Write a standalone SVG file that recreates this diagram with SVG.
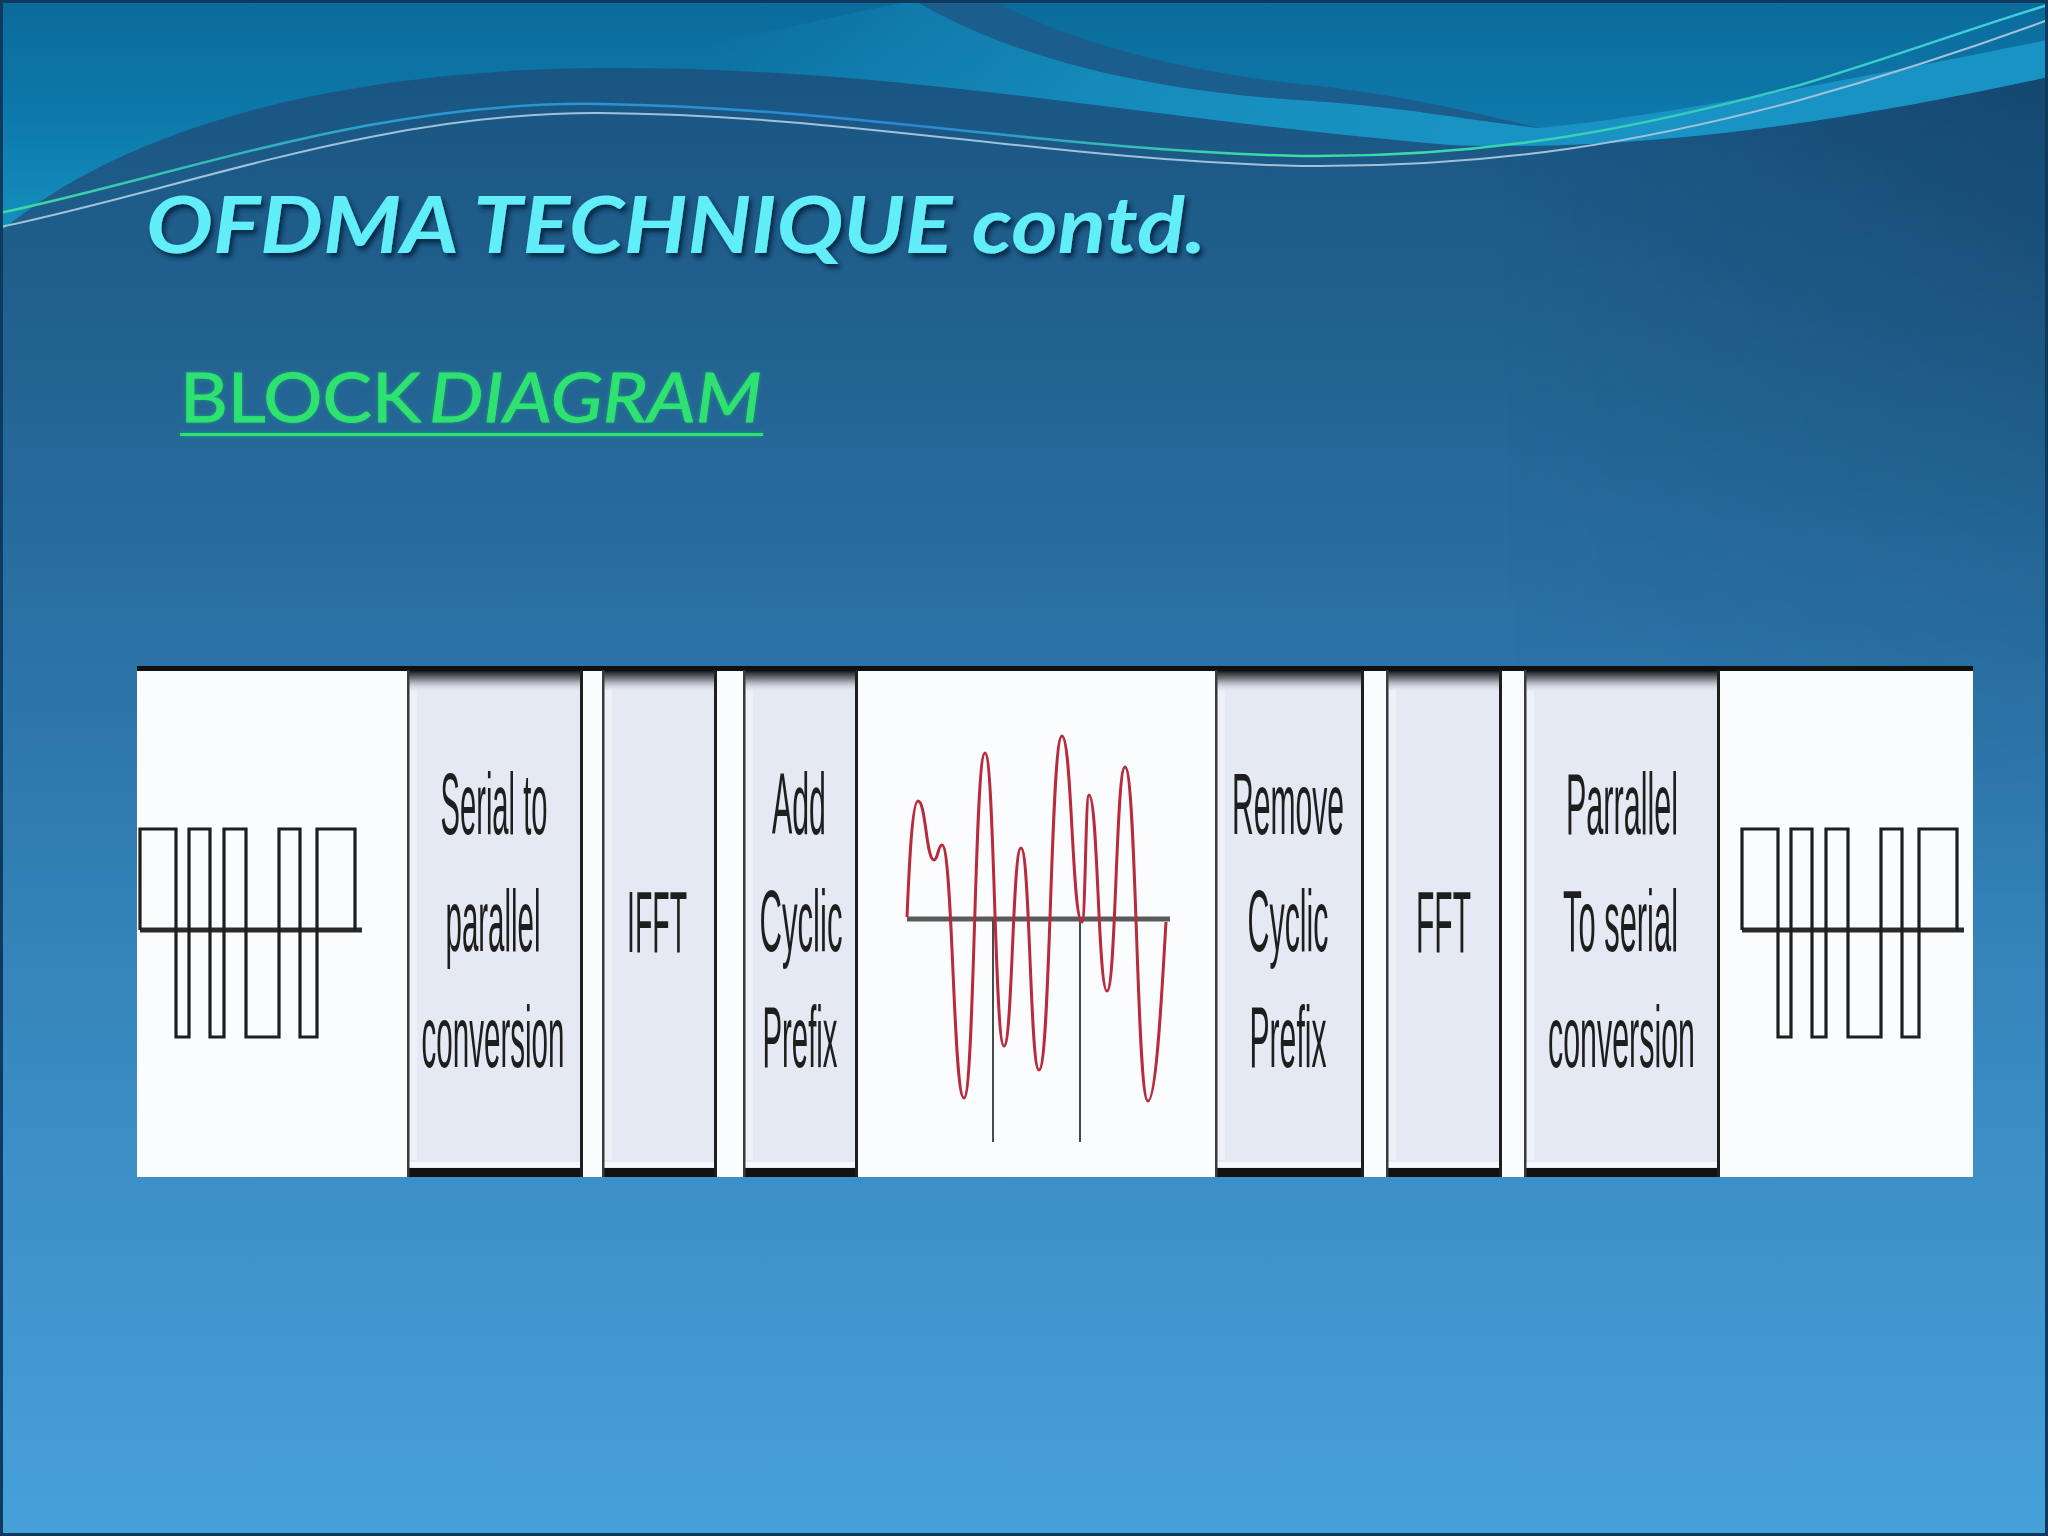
<svg xmlns="http://www.w3.org/2000/svg" width="2048" height="1536" viewBox="0 0 2048 1536">
<defs>
<style>
.lbl{font-family:"Liberation Sans",Arial,sans-serif;font-size:88px;fill:#1e1e1e;text-anchor:middle}
.bfill{fill:#e5e9f3}
.btop{fill:url(#topShade)}
.bbot{fill:#121212}
.bhl{fill:#f7f8fb}
.bedgeL{fill:#3a3a3a}
.bedgeR{fill:#1e1e1e}
.bin{fill:#eef1f8}
.sq{fill:none;stroke:#1e1e1e;stroke-width:3.2;stroke-linejoin:miter}
.base{fill:none;stroke:#2a2a2a;stroke-width:5}
</style>
<linearGradient id="bg" x1="0" y1="0" x2="0" y2="1">
<stop offset="0" stop-color="#17527f"/>
<stop offset="0.2" stop-color="#21608e"/>
<stop offset="0.42" stop-color="#2a72a6"/>
<stop offset="0.72" stop-color="#3a8cc4"/>
<stop offset="1" stop-color="#47a1d8"/>
</linearGradient>
<linearGradient id="rightDark" x1="0" y1="0" x2="1" y2="0">
<stop offset="0" stop-color="#0a2a48" stop-opacity="0"/>
<stop offset="1" stop-color="#0a2a48" stop-opacity="0.35"/>
</linearGradient>
<linearGradient id="fadeV" x1="0" y1="0" x2="0" y2="1">
<stop offset="0" stop-color="#fff"/>
<stop offset="0.6" stop-color="#fff" stop-opacity="0.3"/>
<stop offset="1" stop-color="#fff" stop-opacity="0"/>
</linearGradient>
<mask id="rightMask"><rect x="1500" y="0" width="548" height="900" fill="url(#fadeV)"/></mask>
<linearGradient id="teal" x1="0" y1="0" x2="0" y2="1">
<stop offset="0" stop-color="#0b6b9b"/>
<stop offset="0.5" stop-color="#0d79aa"/>
<stop offset="1" stop-color="#1590be"/>
</linearGradient>
<linearGradient id="band" x1="700" y1="0" x2="1500" y2="0" gradientUnits="userSpaceOnUse">
<stop offset="0" stop-color="#1993c3" stop-opacity="0"/>
<stop offset="0.6" stop-color="#1993c3" stop-opacity="0.8"/>
<stop offset="1" stop-color="#1993c3"/>
</linearGradient>
<linearGradient id="lineG" x1="0" y1="0" x2="2048" y2="0" gradientUnits="userSpaceOnUse">
<stop offset="0" stop-color="#3fdca0"/>
<stop offset="0.2" stop-color="#2b9ad0"/>
<stop offset="0.45" stop-color="#2a88d6"/>
<stop offset="0.62" stop-color="#3ee0a0"/>
<stop offset="0.85" stop-color="#36c8c0"/>
<stop offset="1" stop-color="#40d0e0"/>
</linearGradient>
<linearGradient id="topShade" x1="0" y1="0" x2="0" y2="1">
<stop offset="0" stop-color="#0a0a0a"/>
<stop offset="0.4" stop-color="#4a4c52" stop-opacity="0.7"/>
<stop offset="1" stop-color="#e5e9f3" stop-opacity="0"/>
</linearGradient>
<filter id="shadow" x="-5%" y="-20%" width="110%" height="150%">
<feDropShadow dx="3" dy="4" stdDeviation="2.5" flood-color="#06213a" flood-opacity="0.85"/>
</filter>
<filter id="glow" x="-5%" y="-20%" width="110%" height="150%">
<feDropShadow dx="0" dy="0" stdDeviation="2" flood-color="#20c060" flood-opacity="0.6"/>
</filter>
</defs>

<g id="background">
<rect x="0" y="0" width="2048" height="1536" fill="url(#bg)"/>
<rect x="1500" y="0" width="548" height="900" fill="url(#rightDark)" mask="url(#rightMask)"/>
<path d="M0,0 H2048 V77 C1850,120 1650,152 1450,145 C1150,120 900,66 600,68 C330,70 120,130 0,232 Z" fill="url(#teal)"/>
<path d="M914,0 C990,45 1110,88 1300,100 C1400,106 1480,122 1540,128 C1650,118 1850,80 2048,40 V77 C1850,120 1650,152 1450,145 C1150,120 900,66 600,68 Z" fill="url(#band)"/>
<path d="M914,0 C990,45 1110,88 1300,100 C1400,106 1480,122 1540,128 C1480,114 1400,94 1300,84 C1170,70 1060,38 993,0 Z" fill="#1b5d8c"/>
<path d="M0,213 C180,175 380,100 600,104 C850,108 1050,150 1300,156 C1500,158 1650,125 1800,85 C1900,55 1980,25 2048,5" fill="none" stroke="url(#lineG)" stroke-width="2.5"/>
<path d="M0,227 C180,190 380,112 600,113 C850,115 1050,160 1300,166 C1500,168 1650,140 1800,100 C1900,72 1980,45 2048,20" fill="none" stroke="#9fc2dc" stroke-width="2"/>
<rect x="1.5" y="1.5" width="2045" height="1533" fill="none" stroke="#0e3a5e" stroke-width="3"/>
</g>

<g id="title">
<text x="146" y="253" font-family="Lato, 'Open Sans', sans-serif" font-weight="700" font-style="italic" font-size="78" fill="#62eef8" textLength="1060" lengthAdjust="spacingAndGlyphs" filter="url(#shadow)">OFDMA TECHNIQUE contd.</text>
</g>

<g id="subtitle" fill="#2fe272" stroke="#2fe272" stroke-width="0.8" filter="url(#glow)">
<text y="422" font-family="Lato, 'Open Sans', sans-serif" font-size="68"><tspan x="180" textLength="241" lengthAdjust="spacingAndGlyphs">BLOCK</tspan></text>
<text y="422" font-family="Lato, 'Open Sans', sans-serif" font-size="68" font-style="italic"><tspan x="429" textLength="333" lengthAdjust="spacingAndGlyphs">DIAGRAM</tspan></text>
<rect x="180" y="433" width="583" height="3" stroke="none"/>
</g>

<g id="strip">
<rect x="137" y="666" width="1836" height="511" fill="#fbfcfe"/>
<rect x="137" y="666" width="1836" height="5" fill="#101010"/>
</g>

<g id="input-signal">
<path class="base" d="M140,930 H362"/>
<path class="sq" d="M140,930 V829 H176 V1037 H189 V829 H210 V1037 H224 V829 H246 V1037 H279 V829 H300 V1037 H317 V829 H355 V930"/>
</g>

<g id="node-serial-to-parallel">
<rect class="bfill" x="407" y="670" width="176" height="507"/>
<rect class="bin" x="410" y="690" width="7" height="470"/>
<rect class="btop" x="407" y="670" width="176" height="22"/>
<rect class="bhl" x="407" y="1162" width="176" height="5"/>
<rect class="bbot" x="407" y="1168" width="176" height="9"/>
<rect class="bedgeL" x="407" y="670" width="2.5" height="507"/>
<rect class="bedgeR" x="580" y="670" width="3" height="507"/>
<text class="lbl" transform="translate(494 834) scale(0.34 1)" textLength="314.7" lengthAdjust="spacingAndGlyphs">Serial to</text>
<text class="lbl" transform="translate(493 951) scale(0.34 1)" textLength="279.4" lengthAdjust="spacingAndGlyphs">parallel</text>
<text class="lbl" transform="translate(493 1067) scale(0.34 1)" textLength="420.6" lengthAdjust="spacingAndGlyphs">conversion</text>
</g>

<g id="node-ifft">
<rect class="bfill" x="602" y="670" width="115" height="507"/>
<rect class="bin" x="605" y="690" width="7" height="470"/>
<rect class="btop" x="602" y="670" width="115" height="22"/>
<rect class="bhl" x="602" y="1162" width="115" height="5"/>
<rect class="bbot" x="602" y="1168" width="115" height="9"/>
<rect class="bedgeL" x="602" y="670" width="2.5" height="507"/>
<rect class="bedgeR" x="714" y="670" width="3" height="507"/>
<text class="lbl" transform="translate(657 952) scale(0.34 1)" textLength="176.5" lengthAdjust="spacingAndGlyphs">IFFT</text>
</g>

<g id="node-add-cyclic-prefix">
<rect class="bfill" x="743" y="670" width="115" height="507"/>
<rect class="bin" x="746" y="690" width="7" height="470"/>
<rect class="btop" x="743" y="670" width="115" height="22"/>
<rect class="bhl" x="743" y="1162" width="115" height="5"/>
<rect class="bbot" x="743" y="1168" width="115" height="9"/>
<rect class="bedgeL" x="743" y="670" width="2.5" height="507"/>
<rect class="bedgeR" x="855" y="670" width="3" height="507"/>
<text class="lbl" transform="translate(799 834) scale(0.34 1)" textLength="158.8" lengthAdjust="spacingAndGlyphs">Add</text>
<text class="lbl" transform="translate(801 951) scale(0.34 1)" textLength="244.1" lengthAdjust="spacingAndGlyphs">Cyclic</text>
<text class="lbl" transform="translate(800 1067) scale(0.34 1)" textLength="220.6" lengthAdjust="spacingAndGlyphs">Prefix</text>
</g>

<g id="ofdm-signal">
<path d="M907,919 H1170" fill="none" stroke="#5a5a5a" stroke-width="5"/>
<path d="M993,919 V1142 M1080,919 V1142" fill="none" stroke="#4a4a4a" stroke-width="2"/>
<path d="M907,917 C909,870 912,801 918,801 C926,801 926,860 934,860 C938,860 938,845 942,845 C953,845 953,1098 964,1098 C974.5,1098 974.5,753 985,753 C994.5,753 994.5,1046 1004,1046 C1012.5,1046 1012.5,848 1021,848 C1030,848 1030,1070 1039,1070 C1050.5,1070 1050.5,736 1062,736 C1072,736 1072,922 1082,922 C1085.5,922 1085.5,795 1089,795 C1098,795 1098,991 1107,991 C1116,991 1116,767 1125,767 C1136.5,767 1136.5,1101 1148,1101 C1157,1101 1163,970 1166,922" fill="none" stroke="#b82a3c" stroke-width="3" stroke-linejoin="round"/>
</g>

<g id="node-remove-cyclic-prefix">
<rect class="bfill" x="1215" y="670" width="149" height="507"/>
<rect class="bin" x="1218" y="690" width="7" height="470"/>
<rect class="btop" x="1215" y="670" width="149" height="22"/>
<rect class="bhl" x="1215" y="1162" width="149" height="5"/>
<rect class="bbot" x="1215" y="1168" width="149" height="9"/>
<rect class="bedgeL" x="1215" y="670" width="2.5" height="507"/>
<rect class="bedgeR" x="1361" y="670" width="3" height="507"/>
<text class="lbl" transform="translate(1288 834) scale(0.34 1)" textLength="329.4" lengthAdjust="spacingAndGlyphs">Remove</text>
<text class="lbl" transform="translate(1288 951) scale(0.34 1)" textLength="238.2" lengthAdjust="spacingAndGlyphs">Cyclic</text>
<text class="lbl" transform="translate(1288 1067) scale(0.34 1)" textLength="226.5" lengthAdjust="spacingAndGlyphs">Prefix</text>
</g>

<g id="node-fft">
<rect class="bfill" x="1386" y="670" width="116" height="507"/>
<rect class="bin" x="1389" y="690" width="7" height="470"/>
<rect class="btop" x="1386" y="670" width="116" height="22"/>
<rect class="bhl" x="1386" y="1162" width="116" height="5"/>
<rect class="bbot" x="1386" y="1168" width="116" height="9"/>
<rect class="bedgeL" x="1386" y="670" width="2.5" height="507"/>
<rect class="bedgeR" x="1499" y="670" width="3" height="507"/>
<text class="lbl" transform="translate(1443.5 952) scale(0.34 1)" textLength="161.8" lengthAdjust="spacingAndGlyphs">FFT</text>
</g>

<g id="node-parallel-to-serial">
<rect class="bfill" x="1524" y="670" width="196" height="507"/>
<rect class="bin" x="1527" y="690" width="7" height="470"/>
<rect class="btop" x="1524" y="670" width="196" height="22"/>
<rect class="bhl" x="1524" y="1162" width="196" height="5"/>
<rect class="bbot" x="1524" y="1168" width="196" height="9"/>
<rect class="bedgeL" x="1524" y="670" width="2.5" height="507"/>
<rect class="bedgeR" x="1717" y="670" width="3" height="507"/>
<text class="lbl" transform="translate(1622 834) scale(0.34 1)" textLength="329.4" lengthAdjust="spacingAndGlyphs">Parrallel</text>
<text class="lbl" transform="translate(1620.5 951) scale(0.34 1)" textLength="338.2" lengthAdjust="spacingAndGlyphs">To serial</text>
<text class="lbl" transform="translate(1621.5 1067) scale(0.34 1)" textLength="432.4" lengthAdjust="spacingAndGlyphs">conversion</text>
</g>

<g id="output-signal" transform="translate(1602,0)">
<path class="base" d="M140,930 H362"/>
<path class="sq" d="M140,930 V829 H176 V1037 H189 V829 H210 V1037 H224 V829 H246 V1037 H279 V829 H300 V1037 H317 V829 H355 V930"/>
</g>

<g id="connectors"/>
</svg>
